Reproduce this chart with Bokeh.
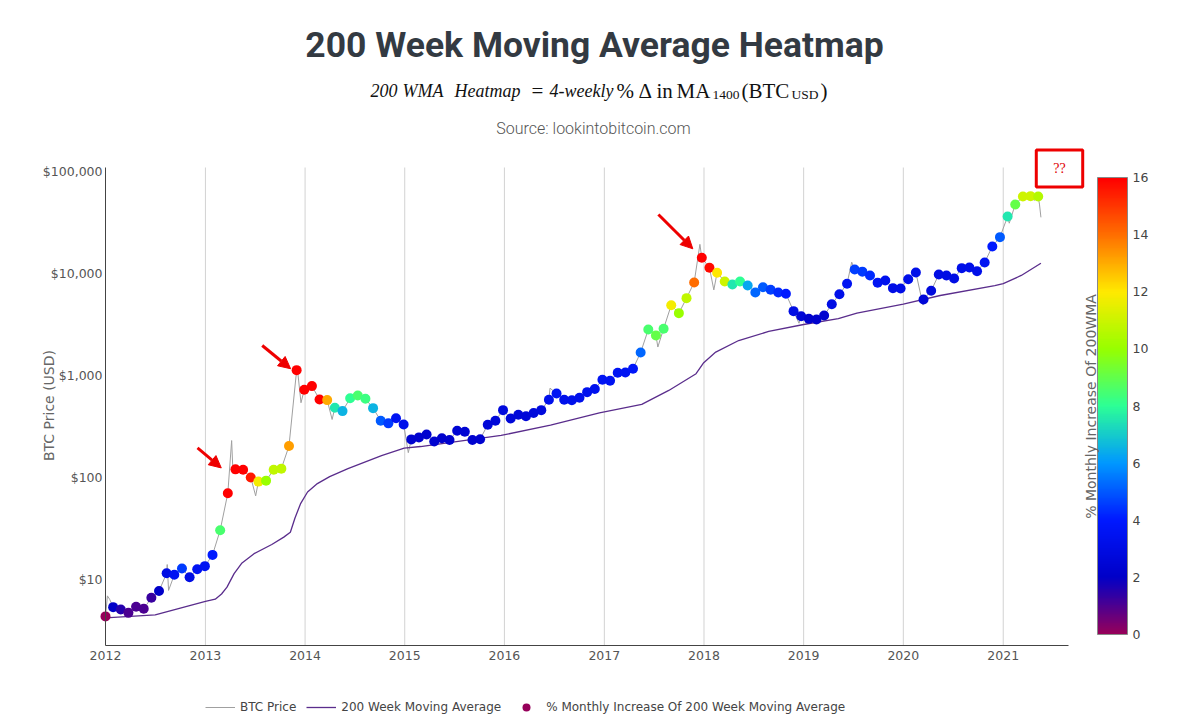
import math
import pandas as pd
from bokeh.plotting import figure
from bokeh.models import (ColumnDataSource, LinearColorMapper, ColorBar, FixedTicker,
                          NumeralTickFormatter, DatetimeTickFormatter, Range1d, Label,
                          Arrow, NormalHead, Legend, LegendItem)
from bokeh.embed import file_html
from bokeh.resources import INLINE

# ---------------- data ----------------
dot_start = "2012-01-01"          # first 4-weekly sample
dot_step = "28D"                   # 4-weekly sampling

dot_price = [4.34, 5.35, 5.08, 4.7, 5.4, 5.15, 6.6, 7.7, 11.5, 11.1,
             12.8, 10.5, 12.6, 13.5, 17.4, 30.4, 70, 120, 119, 100,
             91, 93, 119, 122, 203, 1127, 724, 786, 582, 573,
             482, 447, 598, 636, 591, 478, 360, 339, 381, 331,
             236, 247, 264, 225, 242, 233, 287, 280, 233, 237,
             329, 360, 457, 379, 412, 398, 428, 457, 578, 666,
             578, 572, 605, 686, 736, 908, 888, 1063, 1067, 1164,
             1679, 2819, 2470, 2872, 4885, 4083, 5730, 8160, 14250, 11380,
             10160, 8350, 7800, 8350, 7610, 6510, 7340, 6920, 6510, 6330,
             4270, 3800, 3590, 3530, 3870, 5000, 6250, 7930, 10940, 10420,
             9560, 8130, 8540, 7180, 7130, 8790, 10230, 5560, 6760, 9780,
             9560, 8940, 11280, 11440, 10530, 12820, 18400, 22700, 36200, 47500,
             56900, 57300, 56900]

dot_pct = [0.0, 2.0, 1.5, 1.0, 1.0, 1.0, 1.3, 2.0, 3.0, 3.5,
           4.5, 3.0, 3.5, 3.5, 4.0, 8.5, 16.0, 16.0, 16.0, 15.5,
           11.8, 10.0, 10.8, 10.8, 13.2, 16.0, 16.0, 16.0, 16.0, 13.0,
           7.5, 6.5, 8.0, 8.5, 8.3, 6.5, 5.0, 4.5, 3.5, 3.3,
           2.3, 2.3, 2.3, 2.3, 2.2, 2.2, 2.4, 2.4, 2.3, 2.3,
           2.6, 2.6, 2.8, 2.6, 2.6, 2.6, 2.7, 2.8, 3.3, 3.6,
           3.3, 3.3, 3.3, 3.4, 3.4, 3.6, 3.5, 3.6, 3.6, 3.8,
           5.2, 8.5, 9.0, 8.5, 11.8, 10.0, 10.8, 14.0, 16.0, 15.8,
           12.0, 11.0, 7.5, 8.0, 6.3, 5.2, 5.0, 4.6, 4.3, 4.0,
           3.0, 2.5, 2.2, 2.2, 2.3, 3.0, 3.2, 3.5, 4.6, 4.5,
           4.3, 3.6, 3.4, 3.1, 3.1, 3.2, 3.2, 2.6, 2.8, 3.0,
           3.0, 3.0, 3.2, 3.2, 3.2, 3.5, 4.0, 5.0, 7.5, 9.0,
           11.0, 11.0, 10.5]

# extra BTC price readings between the 4-weekly samples (peaks / dips)
extra_dates = ["2012-01-08", "2012-01-16", "2012-08-14", "2012-08-19", "2013-04-07",
               "2013-04-12", "2013-07-04", "2013-12-04", "2013-12-17", "2014-04-10",
               "2015-01-14", "2016-06-16", "2017-07-16", "2017-12-17", "2018-02-06",
               "2018-12-15", "2019-06-26", "2020-03-13", "2021-01-23", "2021-04-14",
               "2021-04-25", "2021-05-14", "2021-05-19"]
extra_prices = [6.9, 6.4, 14.0, 7.8, 230,
                110, 66, 1150, 540, 370,
                175, 750, 1900, 19300, 6900,
                3250, 12900, 4900, 31100, 61000,
                52000, 47000, 35500]

ma_dates = ["2012-01-01", "2012-07-01", "2013-01-01", "2013-02-06", "2013-03-01",
            "2013-03-21", "2013-04-16", "2013-05-15", "2013-06-28", "2013-09-01",
            "2013-10-15", "2013-11-08", "2013-11-25", "2013-12-15", "2014-01-10",
            "2014-02-15", "2014-04-01", "2014-06-07", "2014-10-08", "2014-12-30",
            "2015-02-28", "2015-12-20", "2016-06-18", "2016-12-14", "2017-05-18",
            "2017-08-25", "2017-12-03", "2017-12-31", "2018-02-13", "2018-05-08",
            "2018-08-26", "2019-01-01", "2019-05-08", "2019-07-15", "2020-01-01",
            "2020-05-15", "2020-12-01", "2021-01-01", "2021-03-08", "2021-05-19"]
ma_values = [4.2, 4.5, 6.1, 6.4, 7.2,
             8.4, 11.4, 14.5, 17.9, 22,
             26, 29, 40, 55, 72,
             87, 102, 122, 164, 194,
             201, 258, 326, 430, 520,
             713, 1040, 1333, 1695, 2200,
             2700, 3160, 3600, 4080, 5000,
             6080, 7600, 7950, 9560, 12600]

year_ticks = [str(y) for y in range(2012, 2022)]
price_ticks = [10, 100, 1000, 10000, 100000]
cbar_ticks = [0, 2, 4, 6, 8, 10, 12, 14, 16]
cbar_low, cbar_high = 0, 16
x_axis_start, x_axis_end = "2012-01-01", "2021-08-28"
y_axis_low, y_axis_high = 2.25, 109400

# plotly "Rainbow" colour scale
scale_stops = [0, 0.125, 0.25, 0.375, 0.5, 0.625, 0.75, 0.875, 1]
scale_rgb = [(150, 0, 90), (0, 0, 200), (0, 25, 255), (0, 152, 255), (44, 255, 150),
             (151, 255, 0), (255, 234, 0), (255, 111, 0), (255, 0, 0)]

# annotation arrows: (start date, start price, end date, end price)
arrows = [("2012-12-03", 195, "2013-02-28", 124),
          ("2013-07-28", 1968, "2013-11-09", 1164),
          ("2017-07-18", 37850, "2017-11-21", 17460)]

# ---------------- build ----------------
def ms(d):
    return pd.Timestamp(d).timestamp() * 1000.0

palette = []
for i in range(256):
    t = i / 255
    for k in range(len(scale_stops) - 1):
        if scale_stops[k] <= t <= scale_stops[k + 1]:
            f = (t - scale_stops[k]) / (scale_stops[k + 1] - scale_stops[k])
            c0, c1 = scale_rgb[k], scale_rgb[k + 1]
            rgb = [round(c0[j] + (c1[j] - c0[j]) * f) for j in range(3)]
            palette.append("#%02x%02x%02x" % tuple(rgb))
            break
mapper = LinearColorMapper(palette=palette, low=cbar_low, high=cbar_high)

dot_dates = pd.date_range(dot_start, periods=len(dot_price), freq=dot_step)
dots = ColumnDataSource(dict(date=dot_dates, price=dot_price, pct=dot_pct))

pl = pd.DataFrame(dict(date=list(dot_dates) + list(pd.to_datetime(extra_dates)),
                       price=list(dot_price) + list(extra_prices))).sort_values("date")
price_src = ColumnDataSource(dict(date=pl["date"].values, price=pl["price"].values))
ma_src = ColumnDataSource(dict(date=pd.to_datetime(ma_dates), ma=ma_values))

# layout (canvas px).  The frame fills the whole canvas; the two axes are pinned
# (fixed_location) to the edges of the visible axes area and bounded to it.
W, H = 1183, 720
AX_L, AX_R, AX_T, AX_B = 105, 1068, 167, 645     # visible axes area
x0, x1 = ms(x_axis_start), ms(x_axis_end)
px_x = (x1 - x0) / (AX_R - AX_L)
l0, l1 = math.log10(y_axis_low), math.log10(y_axis_high)
px_y = (l1 - l0) / (AX_B - AX_T)

p = figure(width=W, height=H, x_axis_type="datetime", y_axis_type="log",
           x_range=Range1d(x0 - AX_L * px_x, x0 + (W - AX_L) * px_x),
           y_range=Range1d(10 ** (l0 - (H - AX_B) * px_y), 10 ** (l0 + AX_B * px_y)),
           output_backend="svg", toolbar_location=None,
           min_border_left=0, min_border_top=0, min_border_right=0, min_border_bottom=0)
p.title.visible = False
p.outline_line_color = None
p.background_fill_color = "white"
p.border_fill_color = "white"

year_ms = [ms(y + "-01-01") for y in year_ticks]
p.xaxis.ticker = FixedTicker(ticks=year_ms)
p.xaxis.formatter = DatetimeTickFormatter(years="%Y", months="%Y", days="%Y", hours="%Y",
                                          hourmin="%Y", minutes="%Y", minsec="%Y",
                                          seconds="%Y", milliseconds="%Y", microseconds="%Y")
p.yaxis.ticker = FixedTicker(ticks=price_ticks)
p.yaxis.formatter = NumeralTickFormatter(format="$0,0")
p.xaxis.bounds = (x0, x1)
p.yaxis.bounds = (y_axis_low, y_axis_high)
p.xaxis.fixed_location = y_axis_low
p.yaxis.fixed_location = x0
for ax in (p.xaxis[0], p.yaxis[0]):
    ax.major_tick_line_color = None
    ax.minor_tick_line_color = None
    ax.major_tick_out = 0
    ax.major_tick_in = 0
    ax.minor_tick_out = 0
    ax.axis_line_color = "#444444"
    ax.major_label_text_font = "DejaVu Sans"
    ax.major_label_text_font_size = "12.5px"
    ax.major_label_text_color = "#555555"
p.xaxis.major_label_standoff = 5
p.yaxis.major_label_standoff = 3
p.xgrid.grid_line_color = None
p.ygrid.grid_line_color = None

# vertical year grid lines, limited to the axes area
p.segment(x0=year_ms[1:], x1=year_ms[1:], y0=[y_axis_low] * (len(year_ms) - 1),
          y1=[y_axis_high] * (len(year_ms) - 1), line_color="#d2d2d2", line_width=1)

r_price = p.line("date", "price", source=price_src, line_color="#a0a0a0", line_width=1)
r_ma = p.line("date", "ma", source=ma_src, line_color="#5a2d8c", line_width=1.3)
r_dots = p.scatter("date", "price", source=dots, size=10, line_color=None,
                   fill_color={"field": "pct", "transform": mapper})

for (d0, v0, d1, v1) in arrows:
    p.add_layout(Arrow(x_start=ms(d0), y_start=v0, x_end=ms(d1), y_end=v1,
                       line_color="#ee0000", line_width=3,
                       end=NormalHead(size=12, fill_color="#ee0000", line_color="#ee0000")))

legend = Legend(items=[LegendItem(label="BTC Price", renderers=[r_price]),
                       LegendItem(label="200 Week Moving Average", renderers=[r_ma]),
                       LegendItem(label="% Monthly Increase Of 200 Week Moving Average",
                                  renderers=[r_dots])],
                orientation="horizontal", location=(205, 3), padding=0, margin=0,
                spacing=10, glyph_width=30, glyph_height=20, label_standoff=5,
                border_line_color=None, background_fill_alpha=0,
                label_text_font="DejaVu Sans", label_text_font_size="12px",
                label_text_color="#444444")
p.add_layout(legend, "center")

cb = ColorBar(color_mapper=mapper, ticker=FixedTicker(ticks=cbar_ticks),
              width=30, height=457, location=(1097, H - 634), padding=0, margin=0,
              bar_line_color="#888888", bar_line_width=1,
              major_tick_line_color=None, minor_tick_line_color=None,
              major_label_text_font="DejaVu Sans", major_label_text_font_size="12.5px",
              major_label_text_color="#444444", label_standoff=5,
              background_fill_alpha=0, border_line_color=None)
p.add_layout(cb, "center")

# screen units: x from the canvas left, y (given from the top) converted to bottom-up
def lab(text, x, y_top, font, size, color, style="normal", align="left",
        baseline="middle", angle=0.0, **kw):
    p.add_layout(Label(x=x, y=H - y_top, x_units="screen", y_units="screen", text=text,
                       text_font=font, text_font_size=size, text_color=color,
                       text_font_style=style, text_align=align, text_baseline=baseline,
                       angle=angle, **kw))

lab("200 Week Moving Average Heatmap", 594, 44, "Roboto", "35.5px", "#333a42",
    style="bold", align="center")
ital, up, sub = "18px", "21px", "13.5px"
sub_parts = [("200", 370, ital, "italic", 90), ("WMA", 402, ital, "italic", 90),
             ("Heatmap", 454, ital, "italic", 90), ("=", 531, up, "normal", 90),
             ("4-weekly", 549, ital, "italic", 90), ("%", 616, up, "normal", 90),
             ("\u0394", 638, up, "normal", 90), ("in", 656, up, "normal", 90),
             ("MA", 676, up, "normal", 90), ("1400", 712, sub, "normal", 94),
             ("(BTC", 741, up, "normal", 90), ("USD", 791, sub, "normal", 94),
             (")", 820, up, "normal", 90)]
for t, x, sz, st, y in sub_parts:
    lab(t, x, y, "Liberation Serif", sz, "#111111", style=st)
lab("Source: lookintobitcoin.com", 593, 128, "Roboto Light", "16px", "#555555", align="center")

lab("BTC Price (USD)", 48, 405, "DejaVu Sans", "14px", "#666666", align="center",
    angle=math.pi / 2)
lab("% Monthly Increase Of 200WMA", 1090, 406, "DejaVu Sans", "14px", "#666666",
    align="center", angle=math.pi / 2)

lab("??", 1059, 168, "Liberation Serif", "14px", "#e00000", align="center",
    border_line_color="#ee0000", border_line_width=3, background_fill_color="white",
    padding=(17, 11))

open("out.html", "w").write(file_html(p, INLINE))
